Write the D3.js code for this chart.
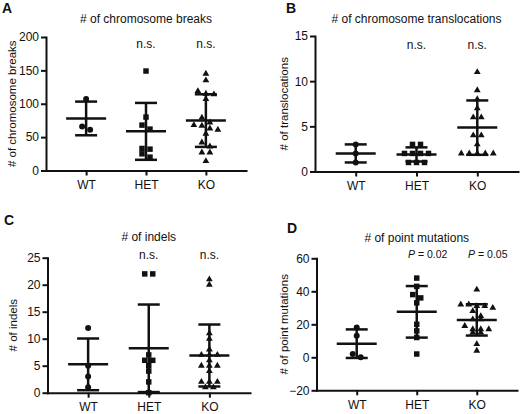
<!DOCTYPE html>
<html>
<head>
<meta charset="utf-8">
<script src="https://cdn.jsdelivr.net/npm/d3@7"></script>
<style>
  body { margin: 0; background: #fff; }
  svg { font-family: "Liberation Sans", Arial, Helvetica, sans-serif; fill: #111; }
  .axis path, .axis line { stroke: #111; stroke-width: 2; }
  .axis text { font-size: 12px; fill: #111; }
</style>
</head>
<body>
<div id="chart"></div>
<script>
// groups on the x axis
const CATEGORIES = ["WT", "HET", "KO"];

// A: chromosome breaks
const breaksWT = [107, 66, 61];
const breaksHET = [149, 80, 68, 62, 33, 32, 25, 20];
const breaksKO = [145, 135, 119, 115, 114, 107, 79, 72, 68, 67, 63, 61, 55, 42, 36, 27, 27, 14];
const breaksTicks = [0, 50, 100, 150, 200];

// B: chromosome translocations
const transWT = [3, 2, 1];
const transHET = [3, 3, 2, 2, 2, 2, 1, 1, 1];
const transKO = [11, 9, 8, 7, 6, 6, 4, 4, 3, 2, 2, 2, 2, 2];
const transTicks = [0, 5, 10, 15];

// C: indels
const indelWT = [12, 5, 3, 1];
const indelHET = [22, 22, 7, 6, 6, 5, 4, 2, 0];
const indelKO = [21, 20, 11, 10, 8, 7, 7, 7, 6, 5, 5, 5, 4, 2, 2, 2, 1, 1];
const indelTicks = [0, 5, 10, 15, 20, 25];

// D: point mutations
const pointWT = [18, 13, 2, 0];
const pointHET = [48, 43, 38, 36, 33, 20, 16, 12, 2];
const pointKO = [41, 32, 32, 31, 31, 30, 28, 25, 23, 23, 19, 17, 17, 17, 15, 15, 8, 4];
const pointTicks = [-20, 0, 20, 40, 60];

// significance text over each group
const nsNotes = ["", "n.s.", "n.s."];
const pNotes = ["", "0.02", "0.05"];

const W = 520, H = 414;
const svg = d3.select("#chart").append("svg")
    .attr("width", W)
    .attr("height", H);

// panel layout (pixels)
const panels = [
    { letter: "A", title: "# of chromosome breaks", ylabel: "# of chromosome breaks",
      groups: [breaksWT, breaksHET, breaksKO], ticks: breaksTicks, notes: nsNotes, pValue: false,
      left: 46, right: 246, top: 37, bottom: 170.5, letterX: 2, letterY: 13,
      titleY: 23, noteY: 48, ylabelX: 16 },
    { letter: "B", title: "# of chromosome translocations", ylabel: "# of translocations",
      groups: [transWT, transHET, transKO], ticks: transTicks, notes: nsNotes, pValue: false,
      left: 315, right: 518, top: 36, bottom: 171.5, letterX: 286, letterY: 13,
      titleY: 23, noteY: 49, ylabelX: 288 },
    { letter: "C", title: "# of indels", ylabel: "# of indels",
      groups: [indelWT, indelHET, indelKO], ticks: indelTicks, notes: nsNotes, pValue: false,
      left: 47.5, right: 250, top: 257.7, bottom: 392.7, letterX: 4, letterY: 225,
      titleY: 241, noteY: 259, ylabelX: 17 },
    { letter: "D", title: "# of point mutations", ylabel: "# of point mutations",
      groups: [pointWT, pointHET, pointKO], ticks: pointTicks, notes: pNotes, pValue: true,
      left: 316.5, right: 517, top: 258.3, bottom: 390.3, letterX: 287, letterY: 233,
      titleY: 241.5, noteY: 258, ylabelX: 288 }
];

const symbols = [d3.symbolCircle, d3.symbolSquare, d3.symbolTriangle];
const symbolSizes = [28, 30, 20];

// spread points sideways when they would overlap (rows, centred on the group)
function swarm(values, y, step) {
    const sorted = values.slice().sort((a, b) => b - a);
    const rows = [];
    sorted.forEach(v => {
        const row = rows[rows.length - 1];
        if (row && Math.abs(y(v) - y(row[0])) < 5) row.push(v);
        else rows.push([v]);
    });
    const out = [];
    rows.forEach(row => {
        row.forEach((v, i) => out.push({ v, dx: (i - (row.length - 1) / 2) * step }));
    });
    return out;
}

panels.forEach(p => {
    const g = svg.append("g");

    const x = d3.scalePoint()
        .domain(CATEGORIES)
        .range([p.left, p.right])
        .padding(0.67);

    const y = d3.scaleLinear()
        .domain(d3.extent(p.ticks))
        .range([p.bottom, p.top]);

    // axes
    g.append("g")
        .attr("class", "axis")
        .attr("transform", `translate(${p.left}, 0)`)
        .call(d3.axisLeft(y).tickValues(p.ticks).tickSize(5).tickSizeOuter(0).tickPadding(2)
            .tickFormat(d => d < 0 ? "\u2212" + Math.abs(d) : d));

    g.append("g")
        .attr("class", "axis")
        .attr("transform", `translate(0, ${p.bottom})`)
        .call(d3.axisBottom(x).tickSize(5).tickSizeOuter(0).tickPadding(5));

    g.selectAll(".axis path").attr("stroke-linecap", "square");

    // labels
    g.append("text")
        .attr("x", p.letterX)
        .attr("y", p.letterY)
        .attr("font-size", 14)
        .attr("font-weight", "bold")
        .text(p.letter);

    g.append("text")
        .attr("x", (p.left + p.right) / 2)
        .attr("y", p.titleY)
        .attr("text-anchor", "middle")
        .attr("font-size", 12)
        .text(p.title);

    g.append("text")
        .attr("transform", `translate(${p.ylabelX}, ${(p.top + p.bottom) / 2}) rotate(-90)`)
        .attr("text-anchor", "middle")
        .attr("font-size", 11.5)
        .text(p.ylabel);

    // significance notes
    p.notes.forEach((n, i) => {
        if (!n) return;
        const t = g.append("text")
            .attr("y", p.noteY)
            .attr("text-anchor", "middle");
        if (p.pValue) {
            t.attr("x", x(CATEGORIES[i]) + 11).attr("font-size", 10.5);
            t.append("tspan").attr("font-style", "italic").text("P");
            t.append("tspan").text(" = " + n);
        } else {
            t.attr("x", x(CATEGORIES[i])).attr("font-size", 12).text(n);
        }
    });

    // mean +/- SD bars
    p.groups.forEach((vals, i) => {
        const cx = x(CATEGORIES[i]);
        const m = d3.mean(vals), sd = d3.deviation(vals);
        const bar = g.append("g")
            .attr("stroke", "#111")
            .attr("stroke-width", 2.5)
            .attr("fill", "none");
        bar.append("line")
            .attr("x1", cx).attr("x2", cx)
            .attr("y1", y(m + sd)).attr("y2", y(m - sd));
        bar.append("line")
            .attr("x1", cx - 20).attr("x2", cx + 20)
            .attr("y1", y(m)).attr("y2", y(m));
        [m + sd, m - sd].forEach(v => {
            bar.append("line")
                .attr("x1", cx - 11).attr("x2", cx + 11)
                .attr("y1", y(v)).attr("y2", y(v));
        });

        // individual points
        g.selectAll(null)
            .data(swarm(vals, y, 8))
            .enter()
            .append("path")
                .attr("d", d3.symbol().type(symbols[i]).size(symbolSizes[i]))
                .attr("transform", d => `translate(${cx + d.dx}, ${y(d.v)})`)
                .attr("fill", "#111");
    });
});
</script>
</body>
</html>
